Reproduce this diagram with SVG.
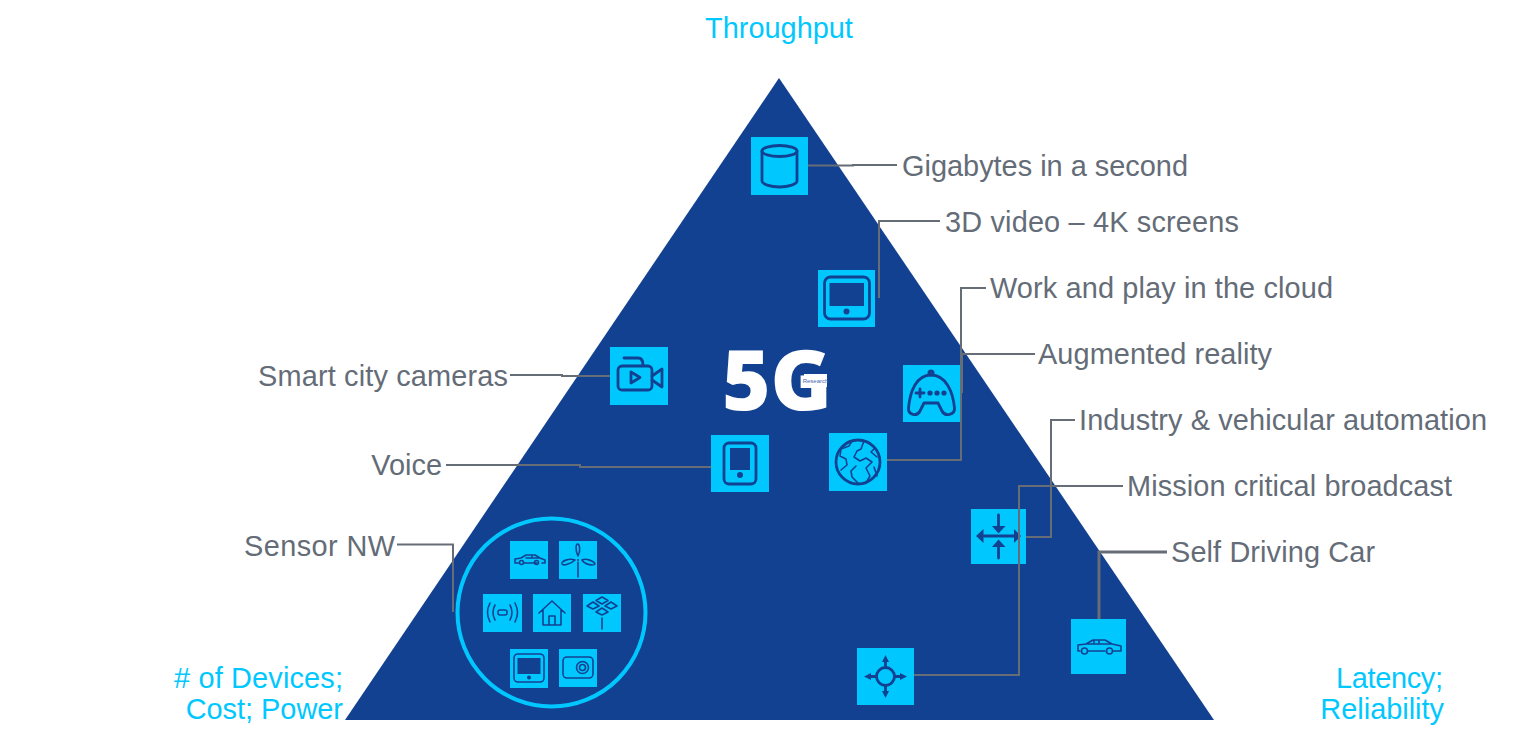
<svg xmlns="http://www.w3.org/2000/svg" width="1527" height="743" viewBox="0 0 1527 743">
<style>
.t{font-family:"Liberation Sans",Arial,sans-serif;font-size:28.900px;fill:#646c77}
.c{font-family:"Liberation Sans",Arial,sans-serif;font-size:28.900px;fill:#00c8ff}
.e{text-anchor:end}
.sq{fill:#00c8ff}
.i{fill:none;stroke:#134191;stroke-width:2.800;stroke-linejoin:round;stroke-linecap:round}
.s{fill:none;stroke:#134191;stroke-width:1.600;stroke-linejoin:round;stroke-linecap:round}
.f{fill:#134191;stroke:none}
.w{fill:none;stroke:#666d76;stroke-width:2}
.w3{fill:none;stroke:#666d76;stroke-width:3}
</style>
<rect width="1527" height="743" fill="#fff"/>
<polygon id="pyramid" points="779,78 1214,720 345,720" fill="#134191"/>
<circle id="sensor-ring" cx="551.500" cy="612.500" r="94" fill="none" stroke="#00c8ff" stroke-width="4"/>

<g id="cylinder"><rect class="sq" x="751" y="137" width="57" height="58"/>
<ellipse class="i" cx="779.500" cy="151" rx="17.500" ry="5.500"/><path class="i" d="M762 151V181C762 184 770 187 779.500 187S797 184 797 181V151"/></g>
<g id="tablet"><rect class="sq" x="818" y="270" width="57" height="57"/>
<rect class="i" x="824.500" y="277" width="45" height="42" rx="6"/><rect class="f" x="829.500" y="283" width="34.500" height="23"/><circle class="f" cx="846.500" cy="311.500" r="3"/></g>
<g id="camera"><rect class="sq" x="610" y="347" width="58" height="58"/>
<rect class="i" x="618" y="366" width="34" height="24" rx="4"/><path class="i" d="M624 358H638Q643 358 643 365M652 376L662 369V387L652 380M631 372V383L640 377.500Z"/></g>
<g id="phone"><rect class="sq" x="711" y="435" width="58" height="57"/>
<rect class="i" x="724" y="443" width="32" height="41" rx="5"/><rect class="f" x="730" y="448" width="20" height="22"/><circle class="f" cx="740" cy="475" r="3"/></g>
<g id="globe"><rect class="sq" x="829" y="433" width="58" height="58"/>
<circle class="i" cx="858" cy="462" r="22"/><path class="s" d="M852 441L849 446L841 449L840 456L846 459L847 465L841 470M864 441L861 449L857 451L854 457L860 461L866 458L872 462L866 468L870 476L866 483M875 448L871 452L877 457M856 466L851 471L852 477L858 483M874 467L877 476"/></g>
<g id="gamepad"><rect class="sq" x="903" y="365" width="58" height="57"/>
<path class="i" d="M931 375C916 375 910 392 908.500 408C908 415 917 417 920 411L924 403H938L942 411C945 417 955 415 954.500 408C953 392 946 375 931 375Z"/><circle class="f" cx="931" cy="373" r="3.500"/><path class="i" d="M916 393H924M920 389V397"/><circle class="f" cx="930" cy="393" r="2.600"/><circle class="f" cx="937" cy="393" r="2.600"/><circle class="f" cx="944" cy="393" r="2.600"/></g>
<g id="arrows-in"><rect class="sq" x="971" y="509" width="55" height="55"/>
<path class="i" d="M998.500 515V527M998.500 547V558M984 536H997.500M999.500 536H1014"/><path class="f" d="M992 526H1005.500L998.500 533.500ZM992 547H1005.500L998.500 539.500ZM983.500 529V543L976 536ZM1014 529V543L1021 536Z"/></g>
<g id="hub"><rect class="sq" x="857" y="648" width="57" height="57"/>
<circle class="i" cx="885.500" cy="676.500" r="9"/><path class="i" d="M885.500 660V667M885.500 686V693M869 676.500H876M895 676.500H902"/><path class="f" d="M882 662H889L885.500 655ZM882 691H889L885.500 698ZM871 673V680L864 676.500ZM900 673V680L907 676.500Z"/></g>
<g id="car"><rect class="sq" x="1071" y="619" width="55" height="55"/>
<path class="s" d="M1078 651V645L1086 644L1093 640H1105L1112 644L1121 646V651H1113M1105 651H1088M1080 651H1078M1094 640V644H1112M1099 640V644M1086 644H1094"/><circle class="s" cx="1084.500" cy="651" r="3"/><circle class="s" cx="1109.500" cy="651" r="3"/></g>

<g id="s-car"><rect class="sq" x="510" y="541" width="38" height="38"/>
<path class="s" d="M515 563V559L521 558L526 555H535L540 558L545 560V563H542M537 563H524M519 563H515M526 558H540M532 555V558" stroke-width="1"/><circle class="s" cx="521.500" cy="562.500" r="2"/><circle class="s" cx="536.500" cy="562.500" r="2"/></g>
<g id="s-wind"><rect class="sq" x="559" y="541" width="38" height="38"/>
<path class="s" d="M578 562V577M578 556C575 550 576 544 577.500 544C579.500 544 581 550 578 556ZM575 560C571 564 563 566 562 564C561 561 569 558 575 560ZM582 560C586 558 594 561 595 564C594 566 585 565 582 560Z"/><circle class="f" cx="578" cy="560" r="1"/></g>
<g id="s-sensor"><rect class="sq" x="483" y="594" width="39" height="38"/>
<rect class="s" x="498" y="610" width="9" height="5" rx="2"/><path class="s" d="M495 605Q491 612.500 495 620M510 605Q514 612.500 510 620M490 603Q485 612.500 490 622M515 603Q520 612.500 515 622"/></g>
<g id="s-house"><rect class="sq" x="533" y="594" width="38" height="38"/>
<path class="s" d="M539 613L552 601L565 613M543 610V625H561V610M549 625V616H555V625"/></g>
<g id="s-tree"><rect class="sq" x="583" y="594" width="38" height="38"/>
<path class="s" d="M602 597L608 600.500L602 604L596 600.500ZM593 602L599 606L593 609L587 606ZM611 602L617 606L611 609L605 606ZM602 608L608 612L602 615L596 612ZM602 618V629"/></g>
<g id="s-tablet"><rect class="sq" x="510" y="649" width="38" height="39"/>
<rect class="s" x="514" y="654" width="30" height="28" rx="4" stroke-width="1.600"/><rect class="f" x="517.500" y="658" width="23" height="16"/><circle class="f" cx="529" cy="677.500" r="2"/></g>
<g id="s-cam"><rect class="sq" x="559" y="649" width="38" height="38"/>
<rect class="s" x="563" y="657" width="30" height="21" rx="4"/><circle class="s" cx="582.500" cy="667.500" r="6"/><circle class="s" cx="582.500" cy="667.500" r="3"/></g>

<g id="connectors">
<path class="w" d="M808 165.500H853V165H897"/>
<path class="w" d="M879 298V221H940"/>
<path class="w" d="M887 460H961V288H986"/>
<path class="w3" d="M961.500 393V354H963"/>
<path class="w" d="M961 354H1035"/>
<path class="w" d="M1026 537H1051V420H1075"/>
<path class="w" d="M914 675H1019V486H1123"/>
<path class="w3" d="M1099 619V552H1167"/>
<path class="w" d="M510 375H562V376H610"/>
<path class="w" d="M446 465H580V467H711"/>
<path class="w" d="M397 544.500H453V612"/>
</g>

<g id="logo"><text x="777" y="410" text-anchor="middle" font-family="Open Sans,sans-serif" font-weight="800" font-size="83" fill="#fff">5G</text>
<rect x="804" y="374" width="23" height="13" fill="#fff"/><text x="815.500" y="383" text-anchor="middle" font-family="Liberation Sans,sans-serif" font-size="6" fill="#4a6ab0">Research</text></g>

<g id="labels">
<text class="c" x="779" y="38" text-anchor="middle">Throughput</text>
<text class="t" x="902" y="176" textLength="286">Gigabytes in a second</text>
<text class="t" x="945" y="232" textLength="294">3D video – 4K screens</text>
<text class="t" x="990" y="298" textLength="343">Work and play in the cloud</text>
<text class="t" x="1038" y="364" textLength="234">Augmented reality</text>
<text class="t" x="1079" y="430" textLength="408">Industry &amp; vehicular automation</text>
<text class="t" x="1127" y="496" textLength="325">Mission critical broadcast</text>
<text class="t" x="1171" y="562" textLength="204">Self Driving Car</text>
<text class="t" x="258" y="386" textLength="250">Smart city cameras</text>
<text class="t e" x="442" y="475">Voice</text>
<text class="t" x="244" y="556" textLength="151">Sensor NW</text>
<text class="c" x="174" y="688" textLength="169"># of Devices;</text>
<text class="c e" x="343" y="719">Cost; Power</text>
<text class="c" x="1336" y="688" textLength="107">Latency;</text>
<text class="c e" x="1444" y="719">Reliability</text>
</g>
</svg>
